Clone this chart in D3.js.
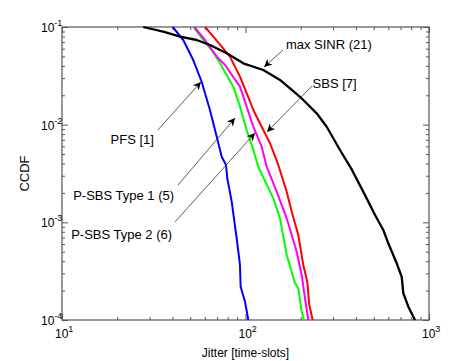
<!DOCTYPE html>
<html>
<head>
<meta charset="utf-8">
<script src="https://cdn.jsdelivr.net/npm/d3@7"></script>
<style>
  body { margin: 0; background: #fff; }
  text { font-family: "Liberation Sans", Arial, sans-serif; fill: #000; }
</style>
</head>
<body>
<script>
// Tick values for the log axes.
var xTicks = [10, 100, 1000];
var yTicks = [1e-4, 1e-3, 1e-2, 1e-1];

// CCDF curves: [jitter, ccdf].
var pfs = [[40.1, 0.1], [45.8, 0.0736], [51.9, 0.0459], [57.7, 0.0275], [64.0, 0.01413],
           [69.7, 0.00753], [74.2, 0.0047], [78.3, 0.00387], [79.6, 0.00282], [84.1, 0.00163],
           [89.5, 0.000687], [93.3, 0.000366], [94.1, 0.000219], [99.4, 0.000154], [103.6, 0.0001]];
var psbs2 = [[51.9, 0.1], [58.9, 0.0736], [65.4, 0.0581], [72.6, 0.0425], [85.8, 0.0245],
             [93.3, 0.01528], [101.5, 0.00882], [110.3, 0.00551], [117.4, 0.00371], [141.8, 0.00176],
             [154.2, 0.0011], [167.7, 0.000463], [186.2, 0.000238], [194.0, 0.000211],
             [202.4, 0.000122], [208.3, 0.0001]];
var psbs1 = [[52.6, 0.1], [60.2, 0.0736], [69.7, 0.0497], [77.3, 0.0408], [93.3, 0.0245],
             [101.5, 0.01528], [110.3, 0.00953], [122.5, 0.00595], [130.5, 0.00371], [147.9, 0.00206],
             [167.7, 0.0011], [190.1, 0.0005], [202.4, 0.000289], [211, 0.000167], [220, 0.0001]];
var sbs = [[60.2, 0.1], [66.8, 0.0796], [74.2, 0.0629], [82.3, 0.0497], [93.3, 0.031],
           [101.5, 0.021], [110.3, 0.01413], [122.5, 0.00953], [136.0, 0.00645], [150.9, 0.00387],
           [167.7, 0.00206], [178.5, 0.00129], [194, 0.000742], [206.5, 0.000366],
           [217.1, 0.000247], [222.7, 0.000142], [232.4, 0.0001]];
var maxSinr = [[27.7, 0.1], [35.6, 0.0895], [44.0, 0.0796], [54.2, 0.0736], [64.0, 0.0654],
               [79.0, 0.0538], [97.3, 0.0425], [125.0, 0.0363], [154.2, 0.0287], [198.2, 0.0193],
               [244.3, 0.01307], [277.0, 0.00953], [327.3, 0.00551], [380.5, 0.00344],
               [448, 0.0019], [508, 0.00119], [563.6, 0.000835], [600, 0.00061], [666.7, 0.000381],
               [710, 0.000277], [724.5, 0.000188], [771.5, 0.000137], [839, 0.0001]];

var series = [
  {name: "PFS", values: pfs, color: "#0000ff", w: 2},
  {name: "P-SBS Type 2", values: psbs2, color: "#00ff00", w: 2},
  {name: "P-SBS Type 1", values: psbs1, color: "#ff00ff", w: 2},
  {name: "SBS", values: sbs, color: "#ff0000", w: 2},
  {name: "max SINR", values: maxSinr, color: "#000000", w: 2.3}
];

// Annotations: label, text anchor point, line start, arrow tip (data coords).
var notes = [
  {label: "max SINR (21)", text: [166, 0.0655], from: [160, 0.0581], tip: [126.2, 0.039], anchor: "start"},
  {label: "SBS [7]", text: [232, 0.0265], from: [230.4, 0.0249], tip: [131, 0.00841], anchor: "start"},
  {label: "PFS [1]", text: [31.7, 0.00713], from: [33.3, 0.00882], tip: [57.2, 0.0274], anchor: "end"},
  {label: "P-SBS Type 1 (5)", text: [40.8, 0.0019], from: [42.9, 0.00241], tip: [87.7, 0.0117], anchor: "end"},
  {label: "P-SBS Type 2 (6)", text: [39.8, 0.00076], from: [41.3, 0.00101], tip: [112.7, 0.00822], anchor: "end"}
];

var margin = {top: 27, right: 45, bottom: 41, left: 62},
    width = 474 - margin.left - margin.right,
    height = 361 - margin.top - margin.bottom;

var svg = d3.select("body")
            .append("svg")
            .attr("width", 474)
            .attr("height", 361);

var g = svg.append("g")
           .attr("transform", "translate(" + margin.left + "," + margin.top + ")");

var xScale = d3.scaleLog().domain([10, 1000]).range([0, width]);
var yScale = d3.scaleLog().domain([1e-4, 1e-1]).range([height, 0]);

// Minor ticks 2..9 for each decade
function minors(lo, hi) {
  var out = [];
  for (var d = lo; d < hi; d *= 10)
    for (var k = 2; k < 10; k++) out.push(d * k);
  return out;
}
var xMinor = minors(10, 1000), yMinor = minors(1e-4, 1e-1);
var axisColor = "#555";

function drawAxis(axis, transform) {
  var a = g.append("g").attr("transform", transform).call(axis);
  a.select(".domain").remove();
  a.selectAll("line").attr("stroke", axisColor);
  a.selectAll("text").remove();
}
// major ticks inside on all four sides
drawAxis(d3.axisBottom(xScale).tickValues(xTicks).tickSize(-6), "translate(0," + height + ")");
drawAxis(d3.axisTop(xScale).tickValues(xTicks).tickSize(-6), "translate(0,0)");
drawAxis(d3.axisLeft(yScale).tickValues(yTicks).tickSize(-6), "translate(0,0)");
drawAxis(d3.axisRight(yScale).tickValues(yTicks).tickSize(-6), "translate(" + width + ",0)");
// minor ticks
drawAxis(d3.axisBottom(xScale).tickValues(xMinor).tickSize(-3), "translate(0," + height + ")");
drawAxis(d3.axisTop(xScale).tickValues(xMinor).tickSize(-3), "translate(0,0)");
drawAxis(d3.axisLeft(yScale).tickValues(yMinor).tickSize(-3), "translate(0,0)");
drawAxis(d3.axisRight(yScale).tickValues(yMinor).tickSize(-3), "translate(" + width + ",0)");

g.append("rect")
 .attr("width", width)
 .attr("height", height)
 .attr("fill", "none")
 .attr("stroke", axisColor)
 .attr("stroke-width", 1.2);

// Tick labels as 10 with a superscript exponent
function expLabel(sel) {
  sel.text("10")
     .append("tspan")
     .attr("dy", -6)
     .attr("font-size", 9)
     .text(function(d) { return Math.round(Math.log10(d)); });
}
g.selectAll(".xlab")
 .data(xTicks)
 .enter()
 .append("text")
 .attr("x", function(d) { return xScale(d) - 7; })
 .attr("y", height + 18)
 .attr("font-size", 12)
 .call(expLabel);

g.selectAll(".ylab")
 .data(yTicks)
 .enter()
 .append("text")
 .attr("x", -21)
 .attr("y", function(d) { return yScale(d) + 5; })
 .attr("font-size", 12)
 .call(expLabel);

svg.append("text")
   .attr("x", margin.left + xScale(100))
   .attr("y", 357)
   .attr("text-anchor", "middle")
   .attr("font-size", 12)
   .text("Jitter [time-slots]");

svg.append("text")
   .attr("transform", "translate(29," + (margin.top + height / 2) + ") rotate(-90)")
   .attr("text-anchor", "middle")
   .attr("font-size", 13)
   .text("CCDF");

var line = d3.line()
             .x(function(d) { return xScale(d[0]); })
             .y(function(d) { return yScale(d[1]); });

g.selectAll(".curve")
 .data(series)
 .enter()
 .append("path")
 .attr("fill", "none")
 .attr("stroke", function(d) { return d.color; })
 .attr("stroke-width", function(d) { return d.w; })
 .attr("stroke-linejoin", "round")
 .attr("d", function(d) { return line(d.values); });

svg.append("defs")
   .append("marker")
   .attr("id", "arrow")
   .attr("viewBox", "0 0 10 10")
   .attr("refX", 10)
   .attr("refY", 5)
   .attr("markerWidth", 10)
   .attr("markerHeight", 8)
   .attr("markerUnits", "userSpaceOnUse")
   .attr("orient", "auto")
   .append("path")
   .attr("d", "M0,0 L10,5 L0,10 L3,5 Z")
   .attr("fill", "#000");

g.selectAll(".note-line")
 .data(notes)
 .enter()
 .append("line")
 .attr("x1", function(d) { return xScale(d.from[0]); })
 .attr("y1", function(d) { return yScale(d.from[1]); })
 .attr("x2", function(d) { return xScale(d.tip[0]); })
 .attr("y2", function(d) { return yScale(d.tip[1]); })
 .attr("stroke", "#333")
 .attr("stroke-width", 0.8)
 .attr("marker-end", "url(#arrow)");

g.selectAll(".note-text")
 .data(notes)
 .enter()
 .append("text")
 .attr("x", function(d) { return xScale(d.text[0]); })
 .attr("y", function(d) { return yScale(d.text[1]); })
 .attr("dy", "0.35em")
 .attr("text-anchor", function(d) { return d.anchor; })
 .attr("font-size", 13)
 .text(function(d) { return d.label; });
</script>
</body>
</html>
